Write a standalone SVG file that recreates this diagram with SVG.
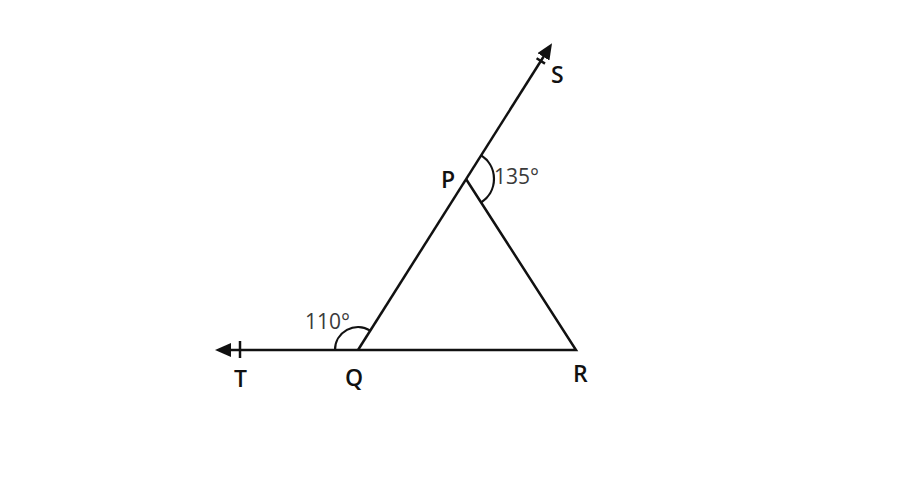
<svg xmlns="http://www.w3.org/2000/svg" width="917" height="502" viewBox="0 0 917 502">
<style>
.ln{fill:none;stroke:#111;stroke-width:2.5;stroke-linejoin:miter;stroke-linecap:butt}
.arc{fill:none;stroke:#111;stroke-width:2.2}
.lbl{font-family:"Open Sans","Noto Sans","Liberation Sans",sans-serif;font-size:23px;font-weight:600;fill:#111}
.ang{font-family:"Open Sans","Noto Sans","Liberation Sans",sans-serif;font-size:21px;fill:#3a3a3a}
</style>
<defs>
<marker id="ah" markerUnits="userSpaceOnUse" markerWidth="17" markerHeight="14" refX="1" refY="7" orient="auto">
<path d="M0,0 L16,7 L0,14 z" fill="#111"/>
</marker>
</defs>
<rect width="917" height="502" fill="#fff"/>
<g id="connectors">
<path class="ln" d="M466,179 L576,350 L230,350" marker-end="url(#ah)"/>
<path class="ln" d="M358,350 L544,56" marker-end="url(#ah)"/>
<line class="ln" x1="240" y1="341" x2="240" y2="358"/>
<line class="ln" x1="536.6" y1="58.3" x2="545.0" y2="63.6"/>
<path class="arc" d="M335,350 A23,23 0 0 1 370.3,330.6"/>
<path class="arc" d="M481,155.3 A28,28 0 0 1 481.1,202.5"/>
</g>
<g id="P"><text class="lbl" x="441" y="188">P</text></g>
<g id="Q"><text class="lbl" x="345" y="386">Q</text></g>
<g id="R"><text class="lbl" x="573" y="382">R</text></g>
<g id="S"><text class="lbl" x="551" y="83">S</text></g>
<g id="T"><text class="lbl" x="234" y="387">T</text></g>
<g id="angleP"><text class="ang" x="494" y="184">135°</text></g>
<g id="angleQ"><text class="ang" x="305" y="329">110°</text></g>
</svg>
